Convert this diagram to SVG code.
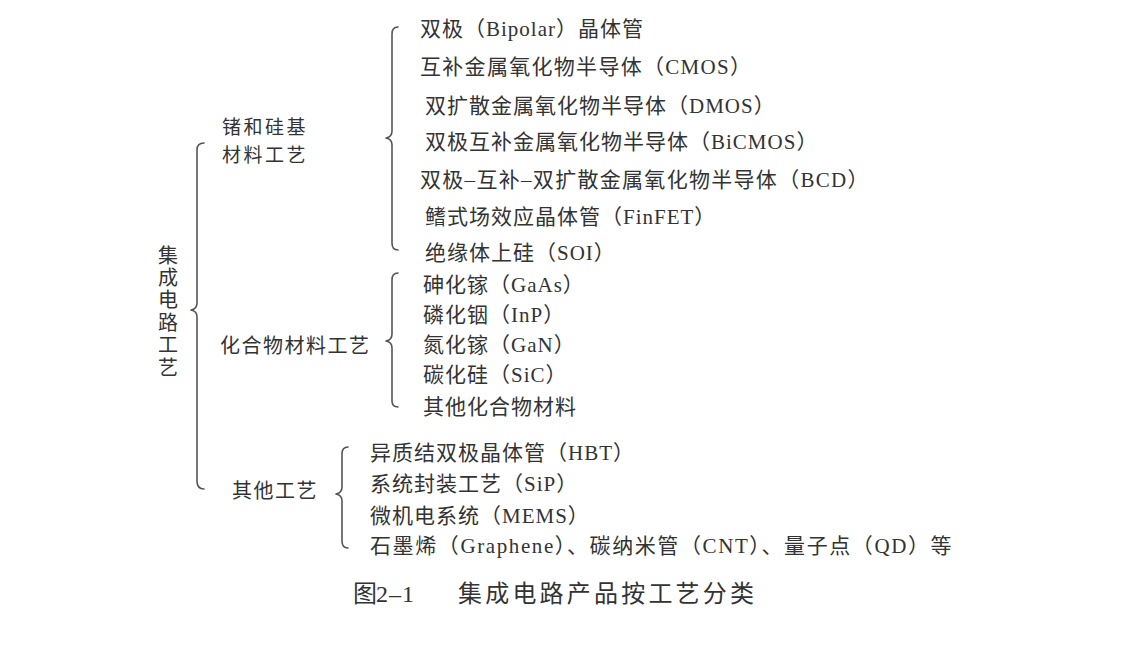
<svg xmlns="http://www.w3.org/2000/svg" width="1145" height="645" viewBox="0 0 1145 645">
<style>
text{font-family:"Noto Sans CJK SC",sans-serif;fill:#333}
.e{font-family:"Liberation Serif","Times New Roman",serif}
.t{font-size:21px;letter-spacing:1px}
.l{font-size:20px;letter-spacing:1.5px}
.s{font-size:19px;letter-spacing:2.5px}
.v{font-size:20px;writing-mode:vertical-rl;letter-spacing:2.4px}
.c{font-size:24px}
.b{fill:none;stroke:#555;stroke-width:1.6;stroke-linecap:round;stroke-linejoin:round}
</style>
<rect width="1145" height="645" fill="#fff"/>
<g id="connectors">
<path class="b" d="M204,143 Q197,143 197,150 L197,303 Q197,309 191,310 Q197,311 197,317 L197,481 Q197,489 204,489"/>
<path class="b" d="M398,27 Q392,27 392,34 L392,131 Q392,137 386,138 Q392,139 392,145 L392,243 Q392,250 398,250"/>
<path class="b" d="M398,273 Q392,273 392,280 L392,334 Q392,340 386,341 Q392,342 392,348 L392,401 Q392,407 398,407"/>
<path class="b" d="M348,447 Q342,447 342,454 L342,487 Q342,493 336,494 Q342,495 342,501 L342,541 Q342,548 348,548"/>
</g>
<g id="root"><text class="v" x="168" y="245">集成电路工艺</text></g>
<g id="si"><text class="s"><tspan x="222" y="134">锗和硅基</tspan><tspan x="222" y="162">材料工艺</tspan></text></g>
<g id="compound"><text class="l" x="220" y="353">化合物材料工艺</text></g>
<g id="other"><text class="l" x="232" y="498">其他工艺</text></g>
<g id="si-items">
<text class="t" x="420" y="36">双极（<tspan class="e">Bipolar</tspan>）晶体管</text>
<text class="t" x="420" y="74" style="letter-spacing:1.3px">互补金属氧化物半导体（<tspan class="e">CMOS</tspan>）</text>
<text class="t" x="425" y="113">双扩散金属氧化物半导体（<tspan class="e">DMOS</tspan>）</text>
<text class="t" x="425" y="149">双极互补金属氧化物半导体（<tspan class="e">BiCMOS</tspan>）</text>
<text class="t" x="420" y="187" style="letter-spacing:1.3px">双极<tspan class="e">–</tspan>互补<tspan class="e">–</tspan>双扩散金属氧化物半导体（<tspan class="e">BCD</tspan>）</text>
<text class="t" x="425" y="224">鳍式场效应晶体管（<tspan class="e">FinFET</tspan>）</text>
<text class="t" x="425" y="260">绝缘体上硅（<tspan class="e">SOI</tspan>）</text>
</g>
<g id="compound-items">
<text class="t" x="423" y="292">砷化镓（<tspan class="e">GaAs</tspan>）</text>
<text class="t" x="423" y="322">磷化铟（<tspan class="e">InP</tspan>）</text>
<text class="t" x="423" y="352">氮化镓（<tspan class="e">GaN</tspan>）</text>
<text class="t" x="423" y="382">碳化硅（<tspan class="e">SiC</tspan>）</text>
<text class="t" x="423" y="414">其他化合物材料</text>
</g>
<g id="other-items">
<text class="t" x="370" y="460">异质结双极晶体管（<tspan class="e">HBT</tspan>）</text>
<text class="t" x="370" y="491">系统封装工艺（<tspan class="e">SiP</tspan>）</text>
<text class="t" x="370" y="523">微机电系统（<tspan class="e">MEMS</tspan>）</text>
<text class="t" x="370" y="553" style="letter-spacing:1.6px">石墨烯（<tspan class="e">Graphene</tspan>）、碳纳米管（<tspan class="e">CNT</tspan>）、量子点（<tspan class="e">QD</tspan>）等</text>
</g>
<g id="caption">
<text class="c" x="353" y="602">图</text>
<text class="c e" x="376" y="602" style="letter-spacing:1px">2–1</text>
<text class="c" x="458" y="602" style="letter-spacing:3.2px">集成电路产品按工艺分类</text>
</g>
</svg>
